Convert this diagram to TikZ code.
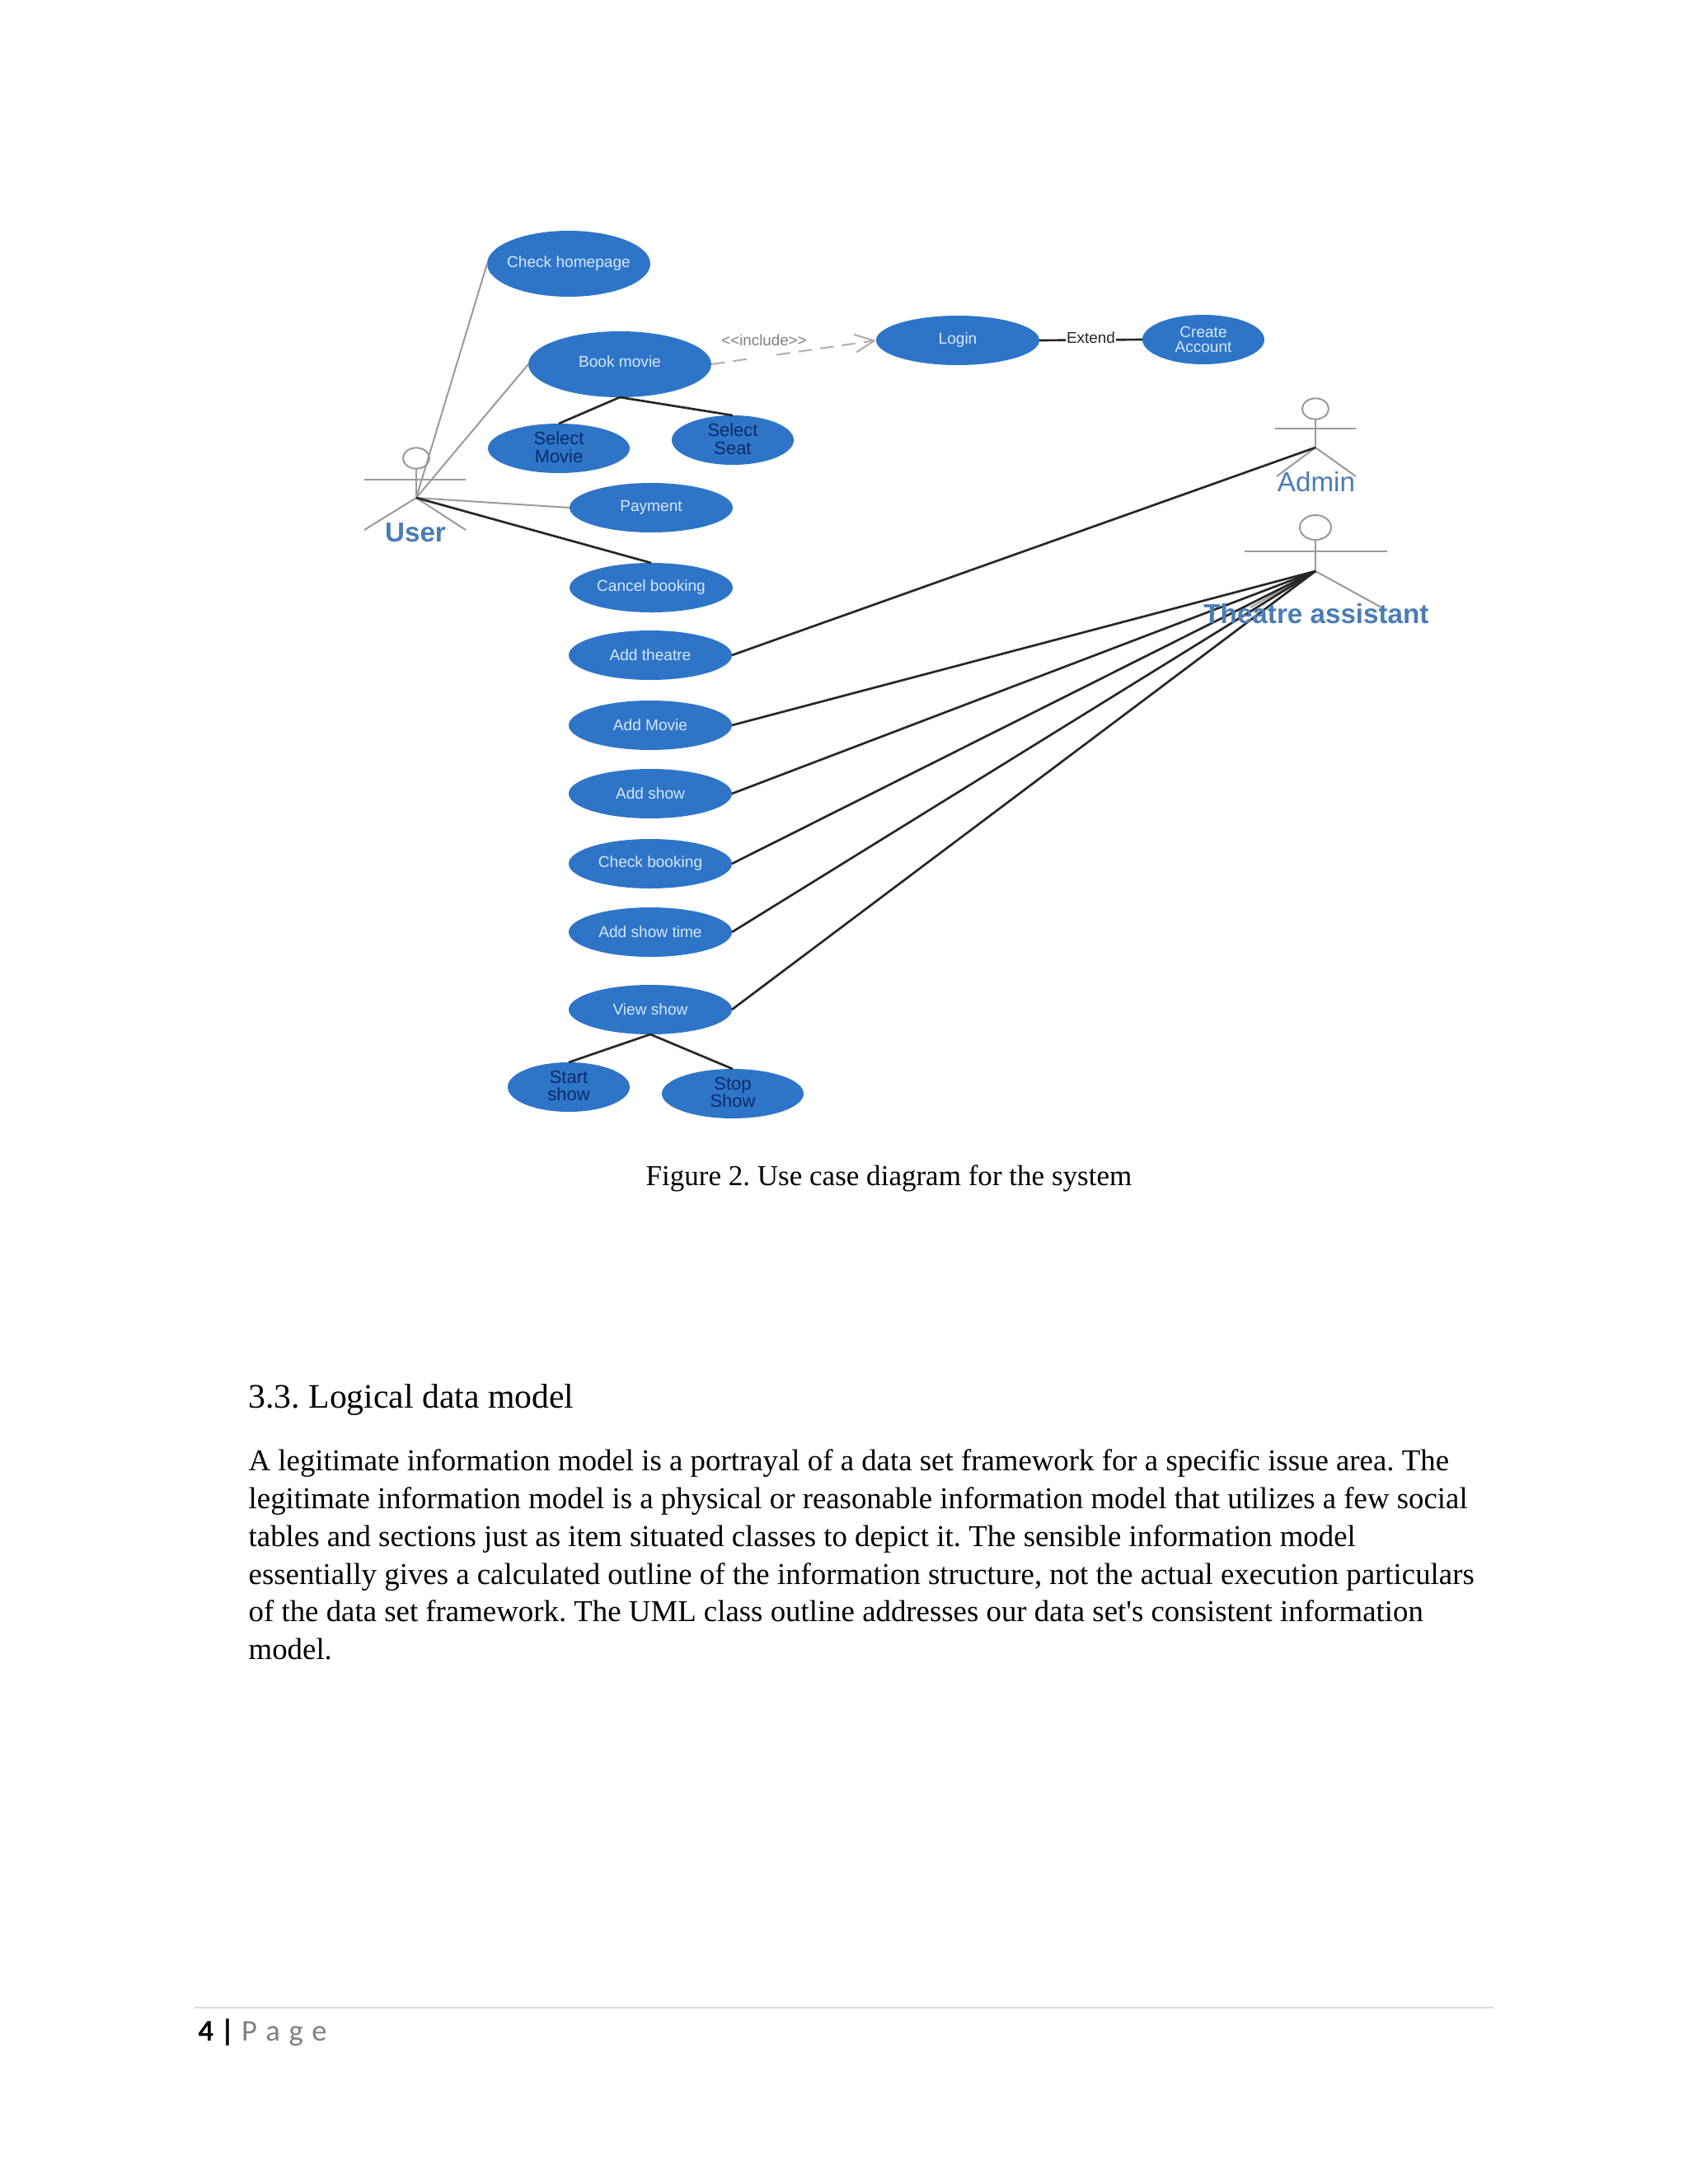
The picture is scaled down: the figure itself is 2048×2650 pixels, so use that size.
\documentclass[tikz,border=0pt]{standalone}
\usepackage{fontspec}
\setmainfont{Liberation Serif}
\setsansfont{Liberation Sans}
\newfontfamily\footfont{Carlito}
\usetikzlibrary{shapes.geometric,arrows.meta}
\definecolor{caseblue}{HTML}{2E75C8}
\definecolor{caselight}{HTML}{D6E8FA}
\definecolor{casedark}{HTML}{0B2A66}
\definecolor{actorblue}{HTML}{4A7DB5}
\definecolor{stickgray}{HTML}{9A9A9A}
\tikzset{
    usecase/.style={ellipse, fill=caseblue, inner sep=-6pt, outer sep=0pt, align=center, font=\sffamily\fontsize{5.75}{5.6}\selectfont, text=caselight, minimum width=59.4bp, minimum height=18bp},
    subcase/.style={usecase, font=\sffamily\fontsize{6.6}{6.5}\selectfont, text=casedark, text depth=1bp},
    shortcase/.style={minimum width=44.4bp},
    widecase/.style={minimum width=51.6bp},
    tallcase/.style={minimum height=24bp},
    actorhead/.style={ellipse, draw=stickgray, line width=0.6bp, inner sep=0pt, outer sep=0pt, minimum width=9.6bp, minimum height=7.6bp},
    stick/.style={draw=stickgray, line width=0.6bp},
    link/.style={draw=black!85, line width=0.8bp},
    actorlabel/.style={font=\sffamily\fontsize{10}{12}\selectfont, text=actorblue},
    bodyline/.style={anchor=base west, inner sep=0pt, font=\fontsize{11.09}{13}\selectfont}
}
\begin{document}
\frenchspacing
\begin{tikzpicture}[x=0.3bp, y=-0.3bp]
    \useasboundingbox (0,0) rectangle (2048,2650);
    \fill[white] (0,0) rectangle (2048,2650);

    \node[usecase, tallcase] (checkhome) at (690,320) {Check homepage};
    \node[usecase, tallcase, minimum width=66.6bp, text depth=2bp] (bookmovie) at (752,442) {Book movie};
    \node[subcase, widecase] (selectmovie) at (678,544) {Select\\Movie};
    \node[subcase, shortcase] (selectseat) at (889,534) {Select\\Seat};
    \node[usecase] (payment) at (790,616) {Payment};
    \node[usecase] (cancelbook) at (790,713) {Cancel booking};
    \node[usecase] (login) at (1162,413) {Login};
    \node[usecase, shortcase] (createacc) at (1460,412) {Create\\Account};
    \node[usecase] (addtheatre) at (789,795) {Add theatre};
    \node[usecase] (addmovie) at (789,880) {Add Movie};
    \node[usecase] (addshow) at (789,963) {Add show};
    \node[usecase] (checkbook) at (789,1048) {Check booking};
    \node[usecase] (addtime) at (789,1131) {Add show time};
    \node[usecase] (viewshow) at (789,1225) {View show};
    \node[subcase, shortcase] (startshow) at (690,1319) {Start\\show};
    \node[subcase, widecase] (stopshow) at (889,1327) {Stop\\Show};

    \node[actorhead] (userhead) at (505,556) {};
    \coordinate (userhub) at (505,604);
    \coordinate (userarml) at (442,582);
    \coordinate (userarmr) at (565,582);
    \coordinate (userlegl) at (442,643);
    \coordinate (userlegr) at (565,643);
    \draw[stick] (userhead) -- (userhub);
    \draw[stick] (userarml) -- (userarmr);
    \draw[stick] (userlegl) -- (userhub) -- (userlegr);
    \node[actorlabel, font=\sffamily\bfseries\fontsize{10}{12}\selectfont] (userlabel) at (504,646) {User};

    \node[actorhead] (adminhead) at (1596,496) {};
    \coordinate (adminhub) at (1596,543);
    \coordinate (adminarml) at (1547,520);
    \coordinate (adminarmr) at (1645,520);
    \coordinate (adminlegl) at (1549,578);
    \coordinate (adminlegr) at (1645,578);
    \draw[stick] (adminhead) -- (adminhub);
    \draw[stick] (adminarml) -- (adminarmr);
    \draw[stick] (adminlegl) -- (adminhub) -- (adminlegr);
    \node[actorlabel] (adminlabel) at (1597,585) {Admin};

    \node[actorhead, minimum width=11.4bp, minimum height=9bp] (assisthead) at (1596,640) {};
    \coordinate (assisthub) at (1596,693);
    \coordinate (assistarml) at (1510,669);
    \coordinate (assistarmr) at (1683,669);
    \coordinate (assistlegl) at (1517,737);
    \coordinate (assistlegr) at (1676,737);
    \draw[stick] (assisthead) -- (assisthub);
    \draw[stick] (assistarml) -- (assistarmr);
    \draw[stick] (assistlegl) -- (assisthub) -- (assistlegr);

    \draw[stick] (userhub) -- (checkhome.west);
    \draw[stick] (userhub) -- (bookmovie.west);
    \draw[stick] (userhub) -- (payment.west);
    \draw[link] (userhub) -- (cancelbook.north);
    \draw[link] (bookmovie.south) -- (selectmovie.north);
    \draw[link] (bookmovie.south) -- (selectseat.north);
    \draw[link] (viewshow.south) -- (startshow.north);
    \draw[link] (viewshow.south) -- (stopshow.north);
    \draw[stickgray!80, line width=0.6bp, dash pattern=on 5bp off 3bp on 5bp off 11bp on 5bp off 3bp on 5bp off 3bp on 5bp off 3bp, -{Straight Barb[length=7bp,width=6.5bp]}] (bookmovie.east) -- (login.west);
    \node[font=\sffamily\fontsize{5.65}{7}\selectfont, text=black!50] (includelabel) at (927,413) {<{}<include>{}>};
    \draw[link] (login.east) -- (createacc.west) node[midway, fill=white, inner sep=0.4pt, font=\sffamily\fontsize{5.7}{7}\selectfont, text=black!85, yshift=0.8bp] (extendlabel) {Extend};

    \draw[link] (addtheatre.east) -- (adminhub);
    \draw[link] (addmovie.east) -- (assisthub);
    \draw[link] (addshow.east) -- (assisthub);
    \draw[link] (checkbook.east) -- (assisthub);
    \draw[link] (addtime.east) -- (assisthub);
    \draw[link] (viewshow.east) -- (assisthub);
    \node[actorlabel, font=\sffamily\bfseries\fontsize{10}{12}\selectfont] (assistlabel) at (1597,745) {Theatre assistant};

    \node[bodyline, font=\fontsize{10.55}{13}\selectfont] (caption) at (783,1438) {Figure 2. Use case diagram for the system};

    \node[bodyline, font=\fontsize{12.55}{16}\selectfont] (heading) at (301,1708) {3.3. Logical data model};
    \node[bodyline] (lineone) at (301,1784) {A legitimate information model is a portrayal of a data set framework for a specific issue area. The};
    \node[bodyline] (linetwo) at (301,1830) {legitimate information model is a physical or reasonable information model that utilizes a few social};
    \node[bodyline] (linethree) at (301,1876) {tables and sections just as item situated classes to depict it. The sensible information model};
    \node[bodyline] (linefour) at (301,1922) {essentially gives a calculated outline of the information structure, not the actual execution particulars};
    \node[bodyline] (linefive) at (301,1967) {of the data set framework. The UML class outline addresses our data set\textquotesingle s consistent information};
    \node[bodyline] (linesix) at (301,2013) {model.};

    \coordinate (footleft) at (236,2436);
    \coordinate (footright) at (1812,2436);
    \draw[black!15, line width=0.6bp] (footleft) -- (footright);
    \node[bodyline, font=\footfont\fontsize{11}{13}\selectfont] (footer) at (240,2476) {\textbf{4 |} \textcolor{black!50}{P\hspace{0.7bp} a\hspace{0.7bp} g\hspace{0.7bp} e}};
\end{tikzpicture}
\end{document}
